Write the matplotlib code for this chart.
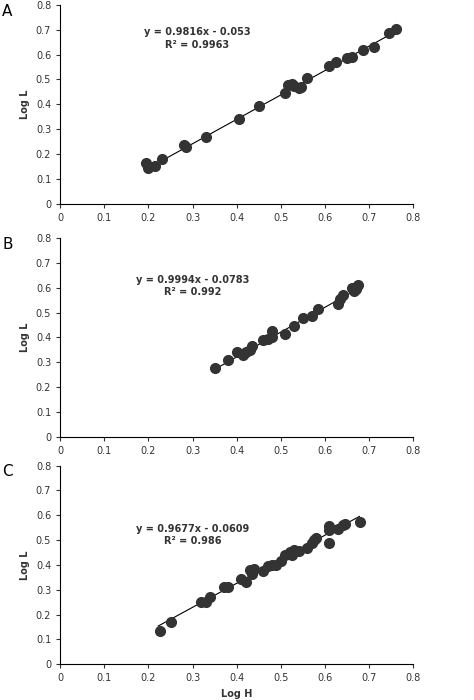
import numpy as np
import matplotlib.pyplot as plt

# panel A
ax_a = [0.195, 0.2, 0.215, 0.23, 0.28, 0.285, 0.33, 0.405, 0.45, 0.51, 0.515, 0.525,
        0.53, 0.54, 0.545, 0.56, 0.61, 0.625, 0.65, 0.66, 0.685, 0.71, 0.745, 0.76]
ay_a = [0.165, 0.145, 0.152, 0.18, 0.235, 0.228, 0.27, 0.34, 0.392, 0.445, 0.478, 0.48,
        0.475, 0.465, 0.47, 0.505, 0.555, 0.572, 0.585, 0.59, 0.62, 0.63, 0.688, 0.705]
# panel B
ax_b = [0.35, 0.38, 0.4, 0.415, 0.42, 0.43, 0.435, 0.46, 0.47, 0.48, 0.48, 0.51, 0.53,
        0.55, 0.57, 0.585, 0.63, 0.635, 0.64, 0.66, 0.665, 0.67, 0.675]
ay_b = [0.277, 0.31, 0.34, 0.33, 0.34, 0.35, 0.365, 0.39, 0.395, 0.425, 0.4, 0.415, 0.445,
        0.48, 0.485, 0.515, 0.535, 0.555, 0.572, 0.6, 0.585, 0.595, 0.61]
# panel C
ax_c = [0.225, 0.25, 0.32, 0.33, 0.34, 0.37, 0.38, 0.41, 0.42, 0.43, 0.435, 0.44, 0.46,
        0.47, 0.48, 0.49, 0.5, 0.51, 0.52, 0.525, 0.53, 0.54, 0.56, 0.57, 0.58, 0.575,
        0.61, 0.61, 0.61, 0.63, 0.64, 0.645, 0.68]
ay_c = [0.133, 0.17, 0.25, 0.25, 0.272, 0.31, 0.31, 0.345, 0.33, 0.38, 0.365, 0.385, 0.375,
        0.395, 0.4, 0.4, 0.415, 0.44, 0.45, 0.44, 0.46, 0.455, 0.47, 0.49, 0.51, 0.5,
        0.49, 0.54, 0.555, 0.545, 0.56, 0.565, 0.572]

slopes = [0.9816, 0.9994, 0.9677]
icepts = [-0.053, -0.0783, -0.0609]
fit_x = [(0.2, 0.765), (0.35, 0.678), (0.222, 0.678)]
eqs = ["y = 0.9816x - 0.053\nR² = 0.9963",
       "y = 0.9994x - 0.0783\nR² = 0.992",
       "y = 0.9677x - 0.0609\nR² = 0.986"]
eq_pos = [(0.31, 0.665), (0.30, 0.607), (0.30, 0.52)]
letters = ["A", "B", "C"]
bottoms = [0.709, 0.376, 0.051]

fig = plt.figure(figsize=(4.74, 7.0), dpi=100)
data = [(ax_a, ay_a), (ax_b, ay_b), (ax_c, ay_c)]
for i in range(3):
    ax = fig.add_axes([0.127, bottoms[i], 0.745, 0.284])
    xs, ys = data[i]
    ax.plot(xs, ys, 'o', color='#333333', markersize=7, zorder=3)
    fx = np.array(fit_x[i])
    ax.plot(fx, slopes[i] * fx + icepts[i], color='black', lw=0.8)
    ax.text(eq_pos[i][0], eq_pos[i][1], eqs[i], ha='center', va='center',
            fontsize=7, fontweight='bold', color='#333333', linespacing=1.3)
    ax.set_xlim(0, 0.8)
    ax.set_ylim(0, 0.8)
    ax.set_xticks(np.arange(0, 0.81, 0.1))
    ax.set_yticks(np.arange(0, 0.81, 0.1))
    ax.set_xticklabels(['0'] + ['%.1f' % v for v in np.arange(0.1, 0.81, 0.1)])
    ax.set_yticklabels(['0'] + ['%.1f' % v for v in np.arange(0.1, 0.81, 0.1)])
    ax.tick_params(labelsize=7, colors='#333333', direction='out', length=3)
    ax.spines['top'].set_visible(False)
    ax.spines['right'].set_visible(False)
    ax.set_ylabel('Log L', fontsize=7, fontweight='bold', color='#333333')
    fig.text(0.005, bottoms[i] + 0.275, letters[i], fontsize=11, va='center')
    if i == 2:
        ax.set_xlabel('Log H', fontsize=7, fontweight='bold', color='#333333')

fig.savefig('out.png', dpi=100)
